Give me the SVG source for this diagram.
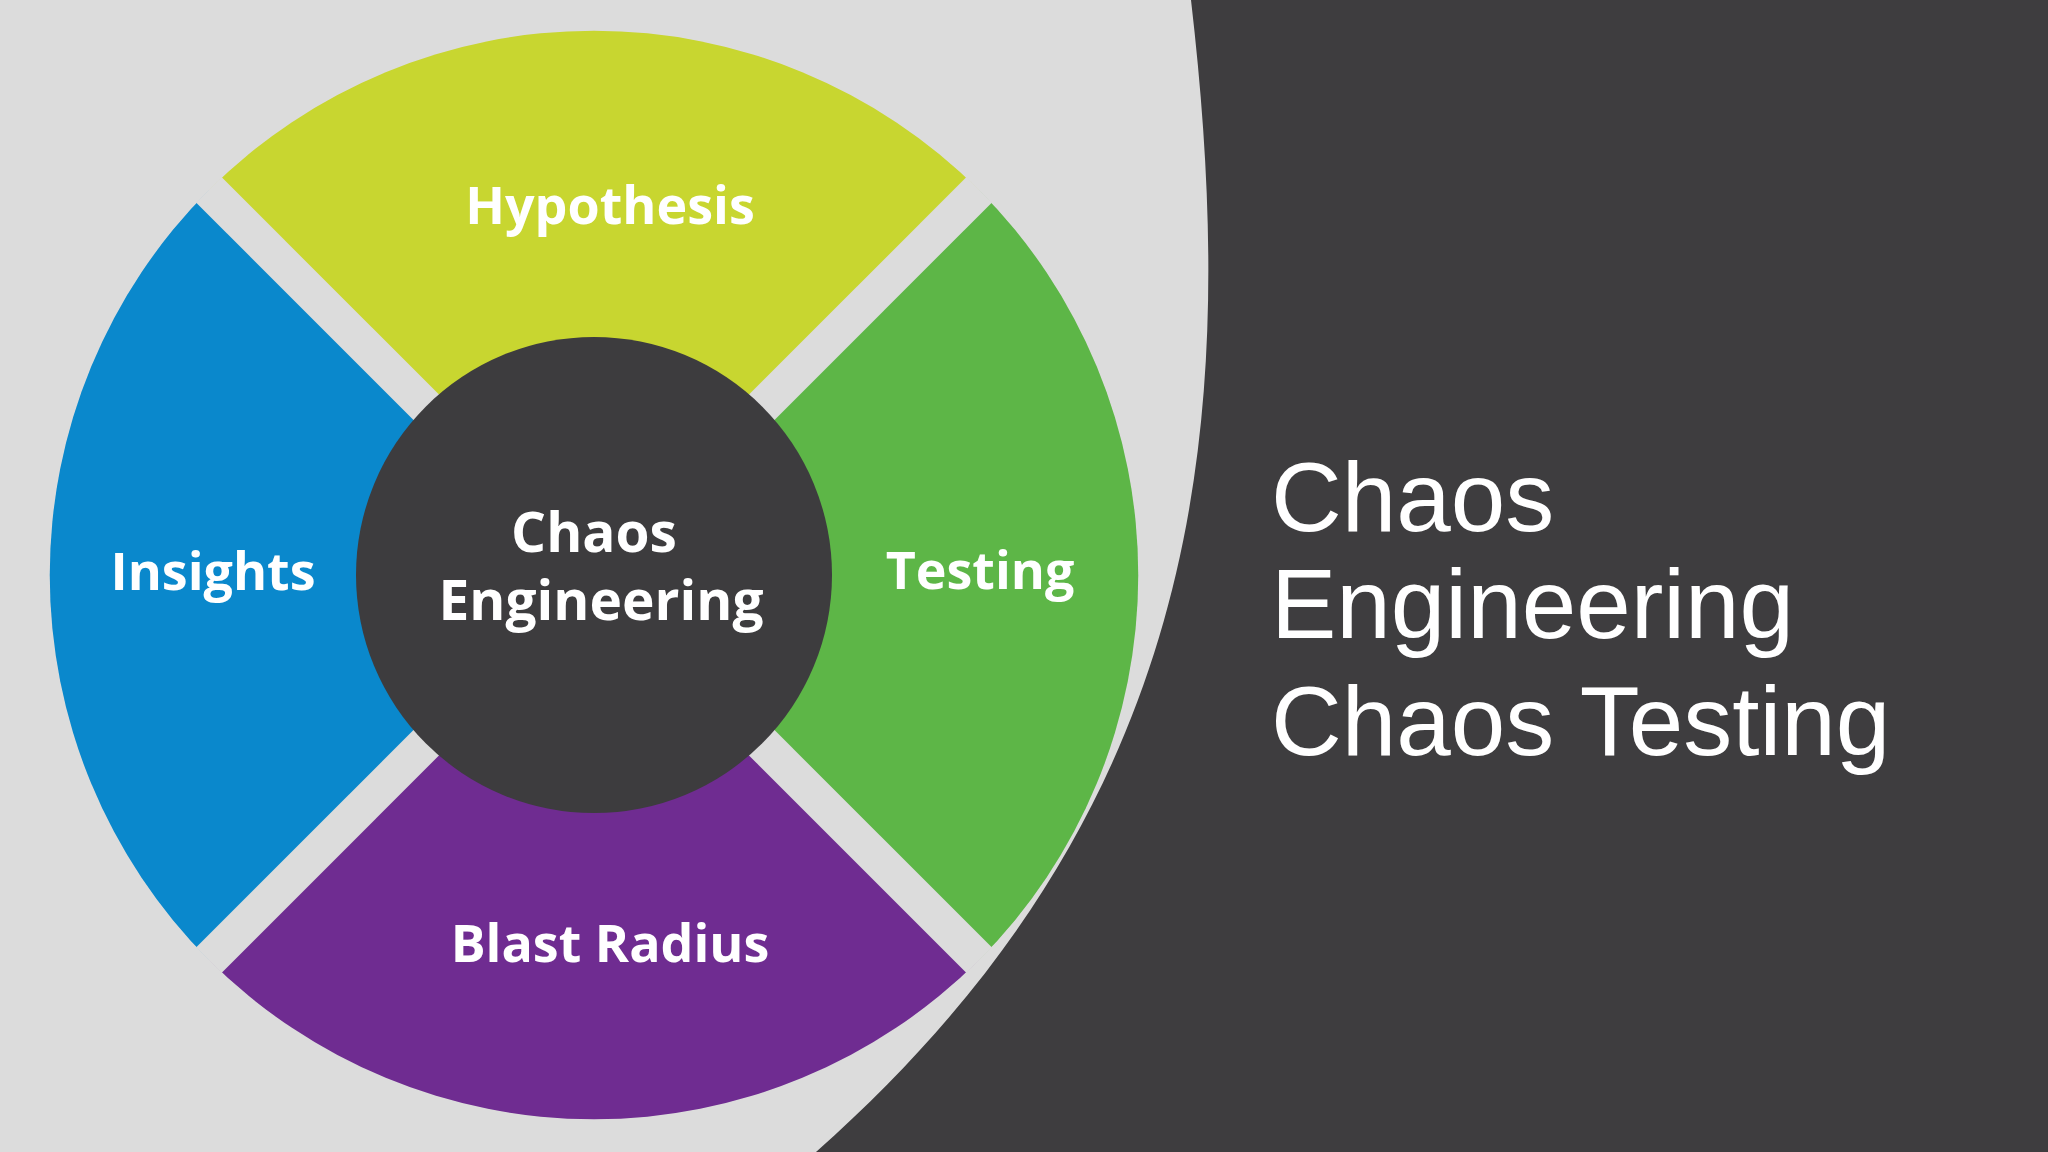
<svg xmlns="http://www.w3.org/2000/svg" width="2048" height="1152" viewBox="0 0 2048 1152">
<style>
.lbl{font-family:"Open Sans","Noto Sans",sans-serif;font-weight:bold;fill:#ffffff;text-anchor:middle}
.big{font-family:"Liberation Sans",Arial,sans-serif;fill:#ffffff;font-size:98px}
</style>
<defs><clipPath id="cl"><circle cx="594" cy="575" r="545"/></clipPath></defs>
<rect width="2048" height="1152" fill="#dcdcdc"/>
<path d="M1191,0 C1241,431 1202,810 816,1152 L2048,1152 L2048,0 Z" fill="#3e3d3f"/>
<g clip-path="url(#cl)">
<g id="hypothesis"><path d="M594,575 L209,190 A545,545 0 0 1 979,190 Z" fill="#c8d630"/><text class="lbl" x="610" y="224" font-size="52">Hypothesis</text></g>
<g id="testing"><path d="M594,575 L979,190 A545,545 0 0 1 979,960 Z" fill="#5db647"/><text class="lbl" x="980" y="589" font-size="52">Testing</text></g>
<g id="blast"><path d="M594,575 L979,960 A545,545 0 0 1 209,960 Z" fill="#6f2c91"/><text class="lbl" x="610" y="962" font-size="52">Blast Radius</text></g>
<g id="insights"><path d="M594,575 L209,960 A545,545 0 0 1 209,190 Z" fill="#0a88cc"/><text class="lbl" x="213" y="590" font-size="52">Insights</text></g>
<g id="connectors" stroke="#dcdcdc" stroke-width="36">
<line x1="170" y1="151" x2="1018" y2="999"/><line x1="1018" y1="151" x2="170" y2="999"/>
</g>
</g>
<g id="center"><circle cx="594" cy="575" r="238" fill="#3d3c3e"/>
<text class="lbl" x="594" y="552" font-size="55">Chaos</text>
<text class="lbl" x="601" y="620" font-size="55">Engineering</text></g>
<g id="title">
<text class="big" x="1271" y="531">Chaos</text>
<text class="big" x="1271" y="638">Engineering</text>
<text class="big" x="1271" y="755">Chaos Testing</text>
</g>
</svg>
